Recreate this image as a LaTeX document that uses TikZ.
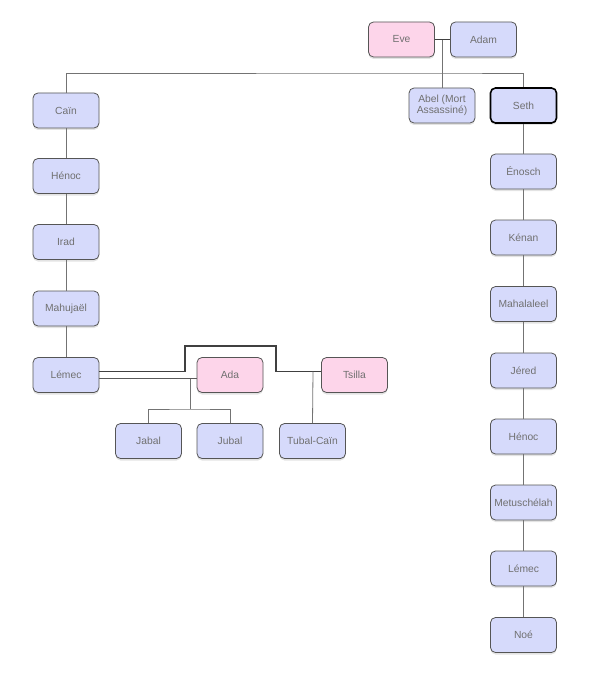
\documentclass[tikz,border=0pt]{standalone}
\usepackage{fontspec}
\setmainfont{Liberation Sans}
\usetikzlibrary{shadows}
\definecolor{boxblue}{HTML}{D6DAFB}
\definecolor{boxpink}{HTML}{FDD5EA}
\definecolor{boxline}{HTML}{555555}
\definecolor{txt}{HTML}{707070}
\begin{document}
\begin{tikzpicture}[x=1pt,y=-1pt,
  person/.style={draw=boxline, line width=0.8pt, rounded corners=5pt, fill=boxblue,
    minimum width=66pt, minimum height=35pt, inner sep=1pt, align=center,
    text=txt, font=\fontsize{10.3}{11.5}\selectfont,
    drop shadow={opacity=0.22, shadow xshift=0pt, shadow yshift=-2pt}},
  woman/.style={person, fill=boxpink},
  focus/.style={person, draw=black, line width=1.6pt},
  desc/.style={draw=black!55, line width=0.8pt},
  wed/.style={draw=black!75, line width=1.3pt}]
\useasboundingbox (0,0) rectangle (595,679);
% top
\node[woman] (eve) at (401.5,39.5) {Eve};
\node[person] (adam) at (483.5,39.5) {Adam};
\node[person] (abel) at (442,105.5) {Abel (Mort\\Assassiné)};
\node[focus] (seth) at (523.5,105.5) {Seth};
% left column
\node[person] (cain) at (66,110.5) {Caïn};
\node[person] (henocL) at (66,176) {Hénoc};
\node[person] (irad) at (66,242) {Irad};
\node[person] (mahujael) at (66,308.5) {Mahujaël};
\node[person] (lemecL) at (66,375) {Lémec};
\node[woman] (ada) at (230,375) {Ada};
\node[woman] (tsilla) at (354.5,375) {Tsilla};
\node[person] (jabal) at (148.5,441) {Jabal};
\node[person] (jubal) at (230,441) {Jubal};
\node[person] (tubal) at (312.5,441) {Tubal-Caïn};
% right column
\node[person] (enosch) at (523.5,171.5) {Énosch};
\node[person] (kenan) at (523.5,237.5) {Kénan};
\node[person] (mahalaleel) at (523.5,304) {Mahalaleel};
\node[person] (jered) at (523.5,370.5) {Jéred};
\node[person] (henocR) at (523.5,436.5) {Hénoc};
\node[person] (metuschelah) at (523.5,502.5) {Metuschélah};
\node[person] (lemecR) at (523.5,568.5) {Lémec};
\node[person] (noe) at (523.5,635) {Noé};
% Eve + Adam
\coordinate (ea) at (abel.north |- eve.east);
\coordinate (bar) at (442,73);
\draw[desc] (ea) -- (abel.north);
\draw[desc] (cain.north) |- (bar) -| (seth.north);
\draw[wed] (eve.east) -- (adam.west);
% left column descent
\draw[desc] (cain) -- (henocL);
\draw[desc] (henocL) -- (irad);
\draw[desc] (irad) -- (mahujael);
\draw[desc] (mahujael) -- (lemecL);
% right column descent
\draw[desc] (seth) -- (enosch);
\draw[desc] (enosch) -- (kenan);
\draw[desc] (kenan) -- (mahalaleel);
\draw[desc] (mahalaleel) -- (jered);
\draw[desc] (jered) -- (henocR);
\draw[desc] (henocR) -- (metuschelah);
\draw[desc] (metuschelah) -- (lemecR);
\draw[desc] (lemecR) -- (noe);
% Lemec + Ada
\coordinate (la) at (190,378.5);
\coordinate (adakids) at (190,409);
\draw[wed, draw=black!65] ([yshift=-3.5pt]lemecL.east) -- ([yshift=-3.5pt]ada.west);
\draw[desc] (la) -- (adakids);
\draw[desc] (jabal.north) |- (adakids) -| (jubal.north);
% Lemec + Tsilla
\coordinate (lt1) at (185,371.5);
\coordinate (lt2) at (276,346);
\coordinate (tk) at (313,371.5);
\draw[wed] ([yshift=3.5pt]lemecL.east) -- (lt1) |- (lt2) |- ([yshift=3.5pt]tsilla.west);
\draw[desc] (tk) -- (tubal.north);
\end{tikzpicture}
\end{document}
